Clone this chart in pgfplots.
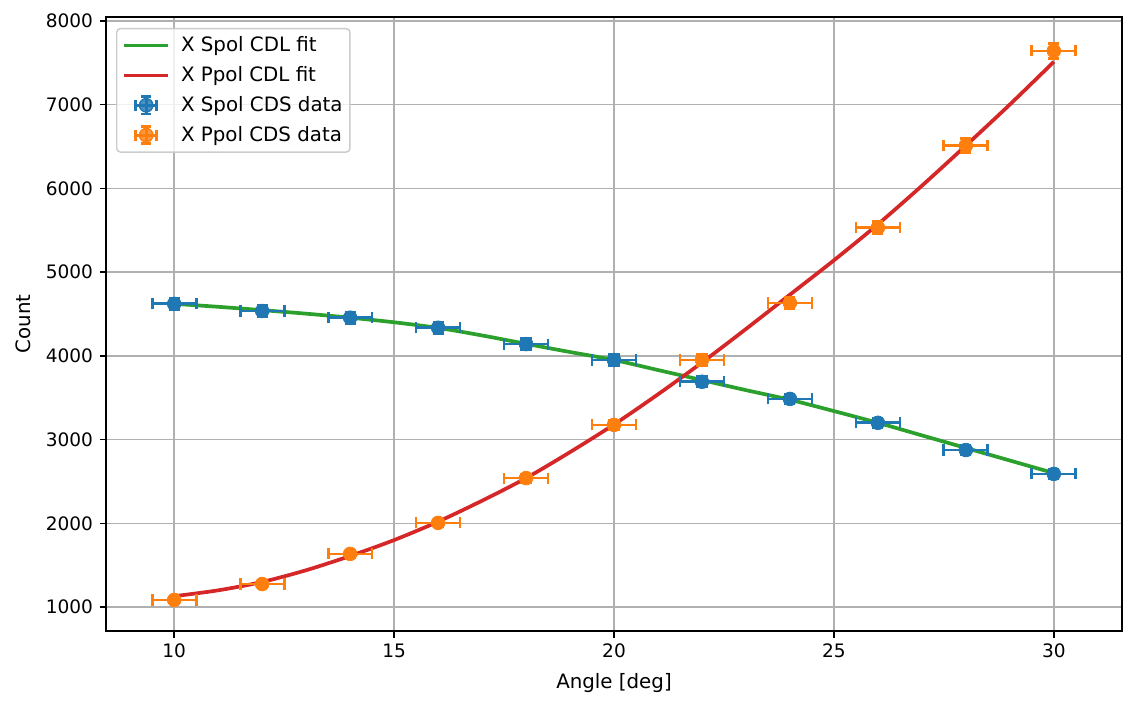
\documentclass[border=0pt]{standalone}
\usepackage{fontspec}
\setmainfont{DejaVu Sans}
\usepackage{pgfplots}
\pgfplotsset{compat=1.18}
\usepackage{pgfplotstable}

\definecolor{mplblue}{HTML}{1F77B4}
\definecolor{mplorange}{HTML}{FF7F0E}
\definecolor{mplgreen}{HTML}{2CA02C}
\definecolor{mplred}{HTML}{D62728}
\definecolor{gridgray}{HTML}{B0B0B0}
\definecolor{legframe}{HTML}{CCCCCC}

% measured counts: angle, count, angle error, count error (sqrt N)
\pgfplotstableread{
x y ex ey
10 4620 0.5 68
12 4535 0.5 67
14 4455 0.5 67
16 4335 0.5 66
18 4140 0.5 64
20 3950 0.5 63
22 3690 0.5 61
24 3485 0.5 59
26 3200 0.5 57
28 2875 0.5 54
30 2590 0.5 51
}\spoldata

\pgfplotstableread{
x y ex ey
10 1085 0.5 33
12 1275 0.5 36
14 1635 0.5 40
16 2005 0.5 45
18 2540 0.5 50
20 3175 0.5 56
22 3950 0.5 63
24 4630 0.5 68
26 5530 0.5 74
28 6510 0.5 81
30 7640 0.5 87
}\ppoldata

% fitted curves
\pgfplotstableread{
x y
10 4620
11 4585
12 4545
13 4503
14 4455
15 4400
16 4333
17 4243
18 4143
19 4045
20 3950
21 3830
22 3710
23 3590
24 3475
25 3340
26 3200
27 3050
28 2900
29 2750
30 2600
}\spolfit

\pgfplotstableread{
x y
10 1130
11 1200
12 1300
13 1440
14 1610
15 1800
16 2020
17 2270
18 2540
19 2850
20 3180
21 3540
22 3920
23 4320
24 4730
25 5140
26 5570
27 6030
28 6510
29 7000
30 7510
}\ppolfit

\pgfplotsset{
  lineleg/.style={legend image code/.code={
    \draw[color=#1, line width=2pt] (0pt,0pt) -- (23.8pt,0pt);}},
  errleg/.style={legend image code/.code={
    \draw[color=#1, line width=1.5pt] (6.2pt,0pt) -- (17.6pt,0pt);
    \draw[color=#1, line width=1.5pt] (6.2pt,-3pt) -- (6.2pt,3pt);
    \draw[color=#1, line width=1.5pt] (17.6pt,-3pt) -- (17.6pt,3pt);
    \draw[color=#1, line width=1.5pt] (11.9pt,-4.7pt) -- (11.9pt,4.7pt);
    \draw[color=#1, line width=1.5pt] (9.2pt,-4.7pt) -- (14.6pt,-4.7pt);
    \draw[color=#1, line width=1.5pt] (9.2pt,4.7pt) -- (14.6pt,4.7pt);
    \fill[color=#1] (11.9pt,0pt) circle (3.6pt);}},
  % error bars alone, markers are drawn on top by a second plot
  databars/.style={
    only marks, mark=none, color=#1,
    errleg=#1,
    error bars/.cd, x dir=both, x explicit, y dir=both, y explicit,
    error mark=|,
    error bar style={line width=1.5pt, color=#1},
    error mark options={line width=1.5pt, mark size=3pt, color=#1}},
  datamarks/.style={
    only marks, mark=*, mark size=3.7pt, color=#1,
    mark options={draw=none, fill=#1}, forget plot,
    on layer=axis foreground},
}

\begin{document}
\begin{tikzpicture}
\begin{axis}[
  name=ax,
  set layers,
  scale only axis,
  width=548.6pt, height=331.6pt,
  xmin=8.45, xmax=31.55,
  ymin=713, ymax=8045,
  xtick={10,15,20,25,30},
  ytick={1000,2000,3000,4000,5000,6000,7000,8000},
  scaled y ticks=false,
  /pgf/number format/1000 sep={},
  /pgf/number format/assume math mode=true,
  tick label style={font=\fontsize{10}{12}\selectfont},
  label style={font=\fontsize{10.7}{12.8}\selectfont},
  tick align=outside, tick pos=left,
  major tick length=3.5pt,
  every tick/.style={black, line width=0.8pt},
  axis line style={line width=0.8pt},
  grid=major,
  grid style={gridgray, line width=0.8pt},
  xlabel={Angle [deg]},
  ylabel={Count},
  xlabel style={yshift=-1.2pt},
  ylabel style={yshift=1.5pt},
  legend cell align=left,
  legend style={at={(0,1)}, anchor=north west, xshift=5.4pt, yshift=-5.9pt,
    draw=legframe, fill=white, fill opacity=0.8, text opacity=1,
    rounded corners=2pt, line width=0.8pt,
    font=\fontsize{10.7}{12.8}\selectfont,
    inner xsep=3pt, inner ysep=3.3pt, row sep=4.5pt,
    nodes={inner sep=1pt},
    /tikz/every odd column/.append style={column sep=4.9pt}},
]
\addplot[mplgreen, line width=2pt, smooth, lineleg=mplgreen] table[x=x, y=y] {\spolfit};
\addlegendentry{X Spol CDL fit}
\addplot[mplred, line width=2pt, smooth, lineleg=mplred] table[x=x, y=y] {\ppolfit};
\addlegendentry{X Ppol CDL fit}
\addplot[databars=mplblue] table[x=x, y=y, x error=ex, y error=ey] {\spoldata};
\addlegendentry{X Spol CDS data}
\addplot[datamarks=mplblue] table[x=x, y=y] {\spoldata};
\addplot[databars=mplorange] table[x=x, y=y, x error=ex, y error=ey] {\ppoldata};
\addlegendentry{X Ppol CDS data}
\addplot[datamarks=mplorange] table[x=x, y=y] {\ppoldata};
\end{axis}
\pgfresetboundingbox
\path (ax.south west) ++(-57.24pt,-39.96pt) rectangle ([shift={(8.1pt,9.18pt)}]ax.north east);
\end{tikzpicture}
\end{document}
